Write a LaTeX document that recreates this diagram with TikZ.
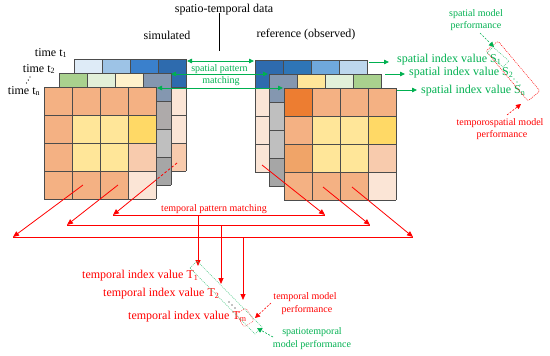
\documentclass[tikz,border=0pt]{standalone}
\usepackage{fontspec}
\setmainfont{Liberation Serif}
\usetikzlibrary{arrows.meta,calc}
\definecolor{grn}{HTML}{00B050}
\definecolor{rd}{HTML}{FF0000}
\definecolor{orA}{HTML}{F4B183}
\definecolor{orB}{HTML}{ED7D31}
\definecolor{orC}{HTML}{F0A468}
\definecolor{yeA}{HTML}{FFE699}
\definecolor{yeB}{HTML}{FFD966}
\definecolor{yeC}{HTML}{FFF2CC}
\definecolor{peA}{HTML}{F8CBAD}
\definecolor{peB}{HTML}{FBE5D6}
\definecolor{blA}{HTML}{DEEBF7}
\definecolor{blB}{HTML}{9DC3E6}
\definecolor{blC}{HTML}{3A80CC}
\definecolor{blD}{HTML}{2E6BAE}
\definecolor{blE}{HTML}{2E75B6}
\definecolor{blF}{HTML}{6FA8DC}
\definecolor{blG}{HTML}{BDD7EE}
\definecolor{gnA}{HTML}{A9D18E}
\definecolor{gnB}{HTML}{E2F0D9}
\definecolor{bgA}{HTML}{8497B0}
\definecolor{gyA}{HTML}{AEAAAA}
\definecolor{gyB}{HTML}{BFBFBF}
\definecolor{gyC}{HTML}{A6A6A6}
\newcommand\mygridcells[3]{%
  \foreach \c [count=\i from 0] in {#3} {
    \pgfmathtruncatemacro\gcol{mod(\i,4)}
    \pgfmathtruncatemacro\grow{\i/4}
    \fill[\c] ({#1+28*\gcol},{#2+28*\grow}) rectangle ++(28,28);
  }
  \foreach \k in {0,...,4} {
    \draw[cellline] ({#1+28*\k},#2) -- ++(0,112);
    \draw[cellline] (#1,{#2+28*\k}) -- ++(112,0);
  }
}
\begin{document}
\begin{tikzpicture}[x=1pt,y=-1pt,
  cellline/.style={draw=black!70,line width=0.6pt},
  bigtxt/.style={font=\rmfamily\fontsize{12}{14}\selectfont, inner sep=0pt},
  smltxt/.style={font=\rmfamily\fontsize{10}{12}\selectfont, inner sep=0pt},
  garr/.style={grn, line width=0.8pt, -{Triangle[length=5pt,width=4.5pt]}},
  gdarr/.style={grn, line width=0.8pt, {Triangle[length=5pt,width=4.5pt]}-{Triangle[length=5pt,width=4.5pt]}},
  rline/.style={rd, line width=0.8pt},
  rarr/.style={rd, line width=0.8pt, -{Triangle[length=6pt,width=5pt]}},
  perfarr/.style={line width=0.6pt, dash pattern=on 2pt off 1.5pt, -{Triangle[length=5pt,width=5pt]}},
  dotbox/.style={line width=0.5pt, dash pattern=on 1pt off 1pt}
]
\useasboundingbox (0,0) rectangle (550,356);

% ---------- left (simulated) stack ----------
\mygridcells{74}{59}{blA,blB,blC,blD, white,white,white,peB, white,white,white,peB, white,white,white,peA}
\mygridcells{59}{73}{gnA,gnB,yeC,bgA, white,white,white,gyA, white,white,white,gyB, white,white,white,gyC}
\mygridcells{44}{87}{orA,orA,orA,orA, orA,yeA,yeA,yeB, orA,yeA,yeA,peA, orA,orA,orA,peB}

% ---------- right (reference) stack ----------
\mygridcells{255}{60}{blD,blE,blF,blG, peB,white,white,white, peB,white,white,white, peB,white,white,white}
\mygridcells{269}{74}{bgA,yeA,gnB,gnA, gyB,white,white,white, gyB,white,white,white, gyC,white,white,white}
\mygridcells{284}{88}{orB,orA,orA,orA, orA,yeA,yeA,yeB, orC,yeA,yeA,peA, orA,orA,orA,peB}

% ---------- titles ----------
\node[bigtxt] (std) at (224,10) {spatio-temporal data};
\coordinate (stdl) at (219,51);
\draw[line width=0.6pt] (std.south -| stdl) ++(0,-3) -- (stdl);
\node[bigtxt] (sim) at (167,35) {simulated};
\node[bigtxt] (ref) at (306,35) {reference (observed)};
\node[bigtxt] (t1) at (51,53) {time t\textsubscript{1}};
\node[bigtxt] (t2) at (39,69) {time t\textsubscript{2}};
\node[bigtxt] (tn) at (24,91) {time t\textsubscript{n}};
\fill (26.5,83) circle (0.7) (28.3,80) circle (0.7) (30,77) circle (0.7);

% ---------- spatial pattern matching ----------
\coordinate (lb) at (187,61);  \coordinate (rb) at (254,61);
\coordinate (lm) at (171,74);  \coordinate (rm) at (268,74);
\coordinate (lf) at (157,88);  \coordinate (rf) at (283,88);
\draw[gdarr] (lb) -- (rb);
\draw[gdarr] (lm) -- (rm);
\draw[gdarr] (lf) -- (rf);
\node[smltxt, text=grn] (spm1) at (219.5,69) {spatial pattern};
\node[smltxt, text=grn] (spm2) at (221,81) {matching};

% ---------- spatial index values ----------
\node[bigtxt, text=grn, anchor=west] (s1) at (397,60) {spatial index value S\textsubscript{1}};
\node[bigtxt, text=grn, anchor=west] (s2) at (409,73) {spatial index value S\textsubscript{2}};
\node[bigtxt, text=grn, anchor=west] (sn) at (421,91) {spatial index value S\textsubscript{n}};
\coordinate (a1s) at (369,62); \coordinate (a1e) at (389,62);
\coordinate (a2s) at (385,74); \coordinate (a2e) at (405,74);
\coordinate (a3s) at (397,90); \coordinate (a3e) at (417,90);
\draw[garr] (a1s) -- (a1e);
\draw[garr] (a2s) -- (a2e);
\draw[garr] (a3s) -- (a3e);
\fill[grn] (514,79) circle (0.7) (517,82) circle (0.7) (520,85) circle (0.7);

\draw[rd, dotbox, rounded corners=2pt] (486,51) -- (498,41) -- (540,91) -- (528,101) -- cycle;
\draw[grn!70, dotbox] (487,53) -- (493,47) -- (509,61) -- (503,67) -- cycle;

\node[smltxt, text=grn] (smp1) at (476,14) {spatial model};
\node[smltxt, text=grn] (smp2) at (476,26) {performance};
\coordinate (smpt) at (480,33); \coordinate (smph) at (494,47);
\draw[perfarr, grn] (smpt) -- (smph);

\node[smltxt, text=rd] (tsp1) at (500,123) {temporospatial model};
\node[smltxt, text=rd] (tsp2) at (502,135) {performance};
\coordinate (tspt) at (507,115); \coordinate (tsph) at (521,104);
\draw[perfarr, rd] (tspt) -- (tsph);

% ---------- temporal pattern matching ----------
\coordinate (h1L) at (113,215); \coordinate (h1R) at (325,215);
\coordinate (h2L) at (67,225);  \coordinate (h2R) at (370,225);
\coordinate (h3L) at (13,237);  \coordinate (h3R) at (413,237);

\coordinate (dA) at (177,163); \coordinate (dAm) at (156,180);
\coordinate (dB) at (118,185); \coordinate (dC) at (83,185);
\coordinate (eA) at (262,165); \coordinate (eB) at (323,187); \coordinate (eC) at (352,187);

\draw[rline, dash pattern=on 2.5pt off 2pt] (dA) -- (dAm);
\draw[rarr] (dAm) -- (h1L);
\draw[rarr] (dB) -- (h2L);
\draw[rarr] (dC) -- (h3L);
\draw[rarr] (eA) -- (h1R);
\draw[rarr] (eB) -- (h2R);
\draw[rarr] (eC) -- (h3R);
\draw[rline] (h1L) -- (h1R);
\draw[rline] (h2L) -- (h2R);
\draw[rline] (h3L) -- (h3R);
\node[smltxt, text=rd] (tpm) at (214,209) {temporal pattern matching};

\coordinate (v1t) at (198,215); \coordinate (v1b) at (198,266);
\coordinate (v2t) at (221,225); \coordinate (v2b) at (221,284);
\coordinate (v3t) at (243,237); \coordinate (v3b) at (243,300);
\draw[rarr] (v1t) -- (v1b);
\draw[rarr] (v2t) -- (v2b);
\draw[rarr] (v3t) -- (v3b);

% ---------- temporal index values ----------
\node[bigtxt, text=rd, anchor=west] (T1) at (82,276) {temporal index value T\textsubscript{1}};
\node[bigtxt, text=rd, anchor=west] (T2) at (103,294) {temporal index value T\textsubscript{2}};
\node[bigtxt, text=rd, anchor=west] (Tm) at (128,317) {temporal index value T\textsubscript{m}};
\fill (229,302) circle (0.7) (232,305) circle (0.7) (235,308) circle (0.7);

\draw[grn!70, dotbox] (190,268) -- (197,261) -- (262,327) -- (255,334) -- cycle;
\draw[rd!70, dotbox, rounded corners=2pt] (236,314) -- (246,308) -- (254,321) -- (244,327) -- cycle;

\node[smltxt, text=rd] (tmp1) at (305,297) {temporal model};
\node[smltxt, text=rd] (tmp2) at (307,310) {performance};
\coordinate (tmpt) at (271,303); \coordinate (tmph) at (255,318);
\draw[perfarr, rd] (tmpt) -- (tmph);

\node[smltxt, text=grn] (stp1) at (312,332) {spatiotemporal};
\node[smltxt, text=grn] (stp2) at (312,345) {model performance};
\coordinate (stpt) at (273,337); \coordinate (stph) at (257,328);
\draw[perfarr, grn] (stpt) -- (stph);
\end{tikzpicture}
\end{document}
